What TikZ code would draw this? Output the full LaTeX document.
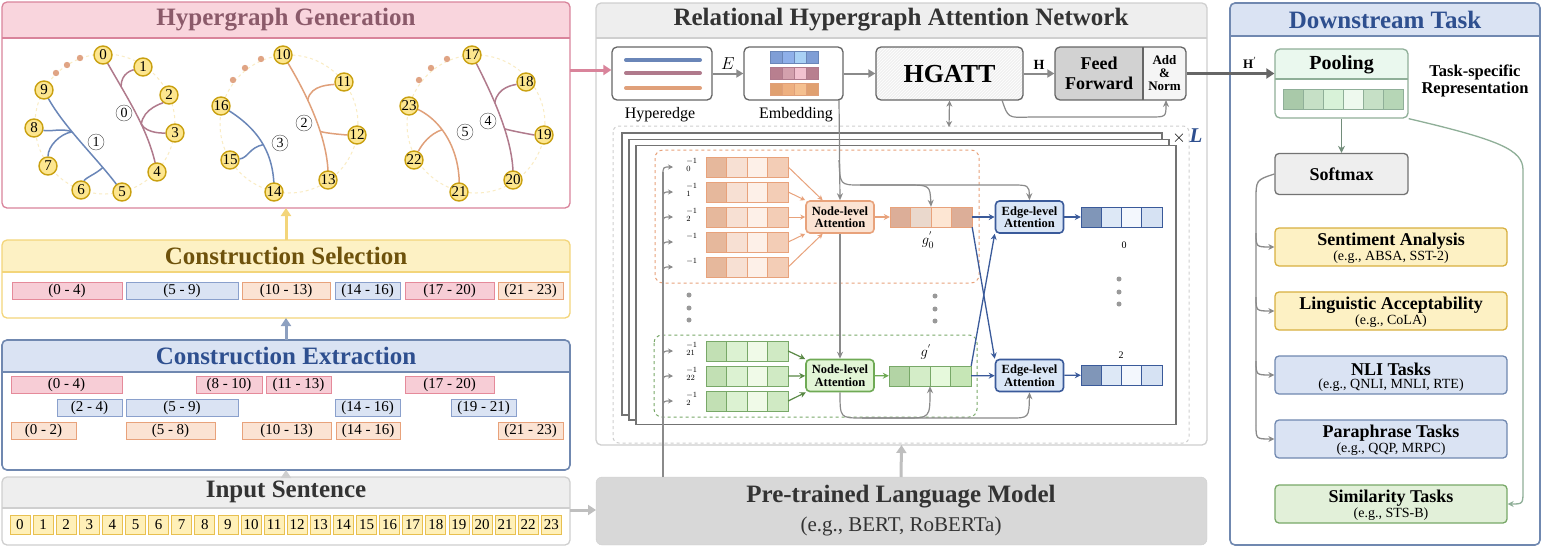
\documentclass[tikz,border=0pt]{standalone}
\usepackage{fontspec}
\setmainfont{Liberation Serif}
\usetikzlibrary{arrows.meta,patterns}

\definecolor{pinkF}{HTML}{F9D5DD}\definecolor{pinkD}{HTML}{D9849B}\definecolor{pinkT}{HTML}{8B5A6A}
\definecolor{yelF}{HTML}{FDF1C4}\definecolor{yelD}{HTML}{F3D57A}\definecolor{yelT}{HTML}{6E520C}
\definecolor{bluF}{HTML}{DAE3F3}\definecolor{bluD}{HTML}{7088B0}\definecolor{bluT}{HTML}{2E4F8F}
\definecolor{gryF}{HTML}{EEEEEE}\definecolor{gryD}{HTML}{CFCFCF}\definecolor{gryT}{HTML}{333333}
\definecolor{segP}{HTML}{F7CDD6}\definecolor{segPD}{HTML}{E58A9A}
\definecolor{segB}{HTML}{DAE3F3}\definecolor{segBD}{HTML}{8AA0CC}
\definecolor{segO}{HTML}{FBE3D3}\definecolor{segOD}{HTML}{E8A27B}
\definecolor{tokF}{HTML}{FFF0B8}\definecolor{tokD}{HTML}{E8C050}
\definecolor{nodF}{HTML}{FDE68F}\definecolor{nodD}{HTML}{C9A010}
\definecolor{heM}{HTML}{B07A8C}\definecolor{heB}{HTML}{6A86B8}\definecolor{heO}{HTML}{E0A07A}
\definecolor{dotO}{HTML}{E0A484}
\definecolor{arrG}{HTML}{8A8A8A}\definecolor{ffG}{HTML}{D2D2D2}
\definecolor{naOF}{HTML}{FBE3D3}\definecolor{naOD}{HTML}{E8A27B}
\definecolor{naGF}{HTML}{E2F5D6}\definecolor{naGD}{HTML}{6FAA55}
\definecolor{eaF}{HTML}{DAE6F6}\definecolor{eaD}{HTML}{3A5A9A}
\definecolor{poolF}{HTML}{EAF8EE}\definecolor{poolD}{HTML}{8FAF98}
\definecolor{grnF}{HTML}{E2F0D9}\definecolor{grnD}{HTML}{78A868}
\definecolor{taskY}{HTML}{D8B040}

\newcommand\fs[1]{\fontsize{#1}{#1}\selectfont}

% panel: name, x1, y1, x2, y2, ybar, fill, draw, width
\newcommand\panel[9]{%
  \fill[white,rounded corners=5pt] (#2,#3) rectangle (#4,#5);
  \begin{scope}
    \clip[rounded corners=5pt] (#2,#3) rectangle (#4,#5);
    \fill[#7] (#2,#3) rectangle (#4,#6);
  \end{scope}
  \draw[#8,line width=#9] (#2,#6) -- (#4,#6);
  \draw[#8,line width=#9,rounded corners=5pt] (#2,#3) rectangle (#4,#5);
  \coordinate (#1-n) at ({(#2+#4)/2},#3);
  \coordinate (#1-s) at ({(#2+#4)/2},#5);
}

% cells: name, x1, y1, width, height, count, border, colours
\newcommand\cells[8]{%
  \node[inner sep=0,minimum width=#4,minimum height=#5] (#1) at ({#2+#4/2},{#3+#5/2}) {};
  \foreach[count=\i] \c in {#8}{
    \definecolor{cc}{HTML}{\c}
    \pgfmathsetmacro\xa{#2+(\i-1)*#4/#6}
    \pgfmathsetmacro\xb{#2+\i*#4/#6}
    \draw[#7,fill=cc,line width=.8] (\xa,#3) rectangle (\xb,{#3+#5});
  }
}

\tikzset{
  title/.style={font=\bfseries\fs{25}},
  seg/.style={inner sep=0,minimum height=17,font=\fs{15}},
  segp/.style={seg,fill=segP,draw=segPD,line width=.8},
  segb/.style={seg,fill=segB,draw=segBD,line width=.8},
  sego/.style={seg,fill=segO,draw=segOD,line width=.8},
  tok/.style={inner sep=0,minimum width=20,minimum height=19,fill=tokF,draw=tokD,line width=.8,font=\fs{15}},
  gnode/.style={circle,inner sep=0,minimum size=18,fill=nodF,draw=nodD,line width=1.4,font=\fs{15}},
  enum/.style={circle,draw=black!70,inner sep=.6,minimum size=16,font=\fs{14}},
  hedge/.style={line width=1.5},
  bigarrow/.style={line width=3,-{Triangle[length=8,width=10]}},
  midarrow/.style={arrG,line width=2,-{Triangle[length=7,width=8]}},
  thinarrow/.style={arrG,line width=1.2,-{Stealth[length=7,width=6]}},
  box/.style={draw=gray!80!black,line width=1.3,rounded corners=5,fill=white,inner sep=0},
  natt/.style={rounded corners=4,line width=1.6,inner sep=1,minimum width=68,minimum height=32,align=center,font=\bfseries\fs{12.5}},
  task/.style={rounded corners=4,line width=1.3,inner sep=0,minimum width=232,minimum height=38},
  vdot/.style={circle,fill=gray!80,inner sep=0,minimum size=5},
}

\begin{document}
\begin{tikzpicture}[x=1pt,y=-1pt]
\useasboundingbox (0,0) rectangle (1544,547);

% ---------------- left column
\panel{hg}{2}{2}{570}{208}{38}{pinkF}{pinkD}{1.3}
\node[title,text=pinkT] (hgt) at (286,20) {Hypergraph Generation};
\panel{cs}{2}{240}{570}{318}{272}{yelF}{yelD}{1.3}
\node[title,text=yelT] (cst) at (286,256) {Construction Selection};
\panel{ce}{2}{340}{570}{470}{372}{bluF}{bluD}{1.6}
\node[title,text=bluT] (cet) at (286,356) {Construction Extraction};
\panel{is}{2}{477}{570}{545}{508}{gryF}{gryD}{1.3}
\node[title,text=gryT] (ist) at (286,492) {Input Sentence};

\draw[bigarrow,yelD] (cs-n) -- (hg-s);
\draw[bigarrow,bluD!80] (ce-n) -- (cs-s);
\draw[bigarrow,gryD] (is-n) -- (ce-s);

% selected constructions
\foreach \n/\a/\b/\y/\k/\t in {
  s1/12/122/291/segp/(0 - 4), s2/126/238/291/segb/(5 - 9), s3/242/330/291/sego/(10 - 13),
  s4/335/400/291/segb/(14 - 16), s5/405/494/291/segp/(17 - 20), s6/498/563/291/sego/(21 - 23),
  e1/11/122/385/segp/(0 - 4), e2/196/262/385/segp/(8 - 10), e3/266/331/385/segp/(11 - 13),
  e4/405/494/385/segp/(17 - 20), e5/57/122/408/segb/(2 - 4), e6/126/238/408/segb/(5 - 9),
  e7/335/400/408/segb/(14 - 16), e8/451/516/408/segb/(19 - 21), e9/11/76/431/sego/(0 - 2),
  e10/126/215/431/sego/(5 - 8), e11/242/331/431/sego/(10 - 13), e12/336/400/431/sego/(14 - 16),
  e13/498/563/431/sego/(21 - 23)}
  \node[\k,minimum width={\b pt-\a pt}] (\n) at ({(\a+\b)/2},\y) {\t};

% tokens
\foreach \i in {0,...,23}
  \node[tok] (t\i) at ({20+\i*23.1},525) {\i};

% hypergraphs
\draw[yelD!45,dashed,line width=1] (105,124) circle (70pt);
\draw[yelD!45,dashed,line width=1] (289,124) circle (69pt);
\draw[yelD!45,dashed,line width=1] (476,124) circle (69pt);
\foreach \x/\y in {56/73,67/65,80/58,233/80,245/68,261/59,419/80,431/68,447/59}
  \fill[dotO] (\x,\y) circle (3.2pt);

\draw[hedge,heM] (103,55) .. controls (125,95) and (150,130) .. (157,172)
  coordinate[pos=.27] (j01) coordinate[pos=.6] (j02);
\draw[hedge,heB] (44,90) .. controls (60,125) and (100,160) .. (122,192)
  coordinate[pos=.4] (j11) coordinate[pos=.75] (j12);
\draw[hedge,heO] (283,55) .. controls (305,90) and (330,140) .. (328,180)
  coordinate[pos=.38] (j21) coordinate[pos=.62] (j22);
\draw[hedge,heB] (221,106) .. controls (255,125) and (275,150) .. (274,192)
  coordinate[pos=.55] (j31);
\draw[hedge,heM] (472,55) .. controls (490,90) and (515,140) .. (513,180)
  coordinate[pos=.4] (j41) coordinate[pos=.6] (j42);
\draw[hedge,heO] (409,106) .. controls (440,115) and (462,150) .. (459,192)
  coordinate[pos=.42] (j51);

\foreach \n/\x/\y in {0/103/55,1/143/67,2/169/95,3/175/133,4/157/172,5/122/192,6/81/190,
  7/48/166,8/34/128,9/44/90,10/283/55,11/344/82,12/357/135,13/328/180,14/274/192,
  15/230/160,16/221/106,17/472/55,18/526/82,19/544/135,20/513/180,21/459/192,
  22/414/160,23/409/106}
  \node[gnode] (g\n) at (\x,\y) {\n};

\draw[hedge,heM] (j01) .. controls +(0,-14) and +(-10,3) .. (g1);
\draw[hedge,heM] (j02) .. controls +(2,-16) and +(-6,8) .. (g2);
\draw[hedge,heM] (j02) .. controls +(6,10) and +(-10,0) .. (g3);
\draw[hedge,heB] (g8) .. controls +(16,4) and +(-10,-4) .. (j11);
\draw[hedge,heB] (g7) .. controls +(0,-20) and +(-12,2) .. (j11);
\draw[hedge,heB] (g6) .. controls +(4,-12) and +(-6,6) .. (j12);
\draw[hedge,heO] (j21) .. controls +(3,-16) and +(-12,3) .. (g11);
\draw[hedge,heO] (j22) .. controls +(6,2) and +(-10,0) .. (g12);
\draw[hedge,heB] (g15) .. controls +(18,-2) and +(-14,3) .. (j31);
\draw[hedge,heM] (j41) .. controls +(3,-16) and +(-12,3) .. (g18);
\draw[hedge,heM] (j42) .. controls +(6,2) and +(-10,0) .. (g19);
\draw[hedge,heO] (g22) .. controls +(8,-16) and +(-12,4) .. (j51);

\node[enum] (c0) at (124,113) {0};
\node[enum] (c1) at (96,142) {1};
\node[enum] (c2) at (304,123) {2};
\node[enum] (c3) at (280,143) {3};
\node[enum] (c4) at (488,121) {4};
\node[enum] (c5) at (465,132) {5};

% ---------------- middle column
\panel{rh}{596}{3}{1207}{445}{38}{gryF}{gryD}{1.3}
\node[title,text=gryT] (rht) at (901,20) {Relational Hypergraph Attention Network};
\draw[fill=gryF!80!gray,draw=gryD,rounded corners=6] (596,477) rectangle (1207,545);
\coordinate (plm-n) at (901,477);
\node[font=\bfseries\fs{25},text=gryT] (plm) at (901,497) {Pre-trained Language Model};
\node[font=\fs{21},text=gryT] (plmx) at (901,526) {(e.g., BERT, RoBERTa)};
\draw[bigarrow,gryD!80!gray] (plm-n) -- (rh-s);
\coordinate (is-e) at (570,510);
\coordinate (plm-w) at (596,510);
\draw[bigarrow,gryD!80!gray] (is-e) -- (plm-w);

\node[box,minimum width=100,minimum height=53] (hyp) at (662,73.5) {};
\draw[line width=4,line cap=round,heB] (626,60) -- (700,60);
\draw[line width=4,line cap=round,heM] (626,73) -- (700,73);
\draw[line width=4,line cap=round,heO] (626,88) -- (700,88);
\node[font=\fs{16}] (hypl) at (660,115) {Hyperedge};
\node[box,minimum width=99,minimum height=53] (emb) at (793.5,73.5) {};
\cells{em1}{770}{51}{48}{12}{4}{heB}{7F9ED6,8FB0EA,A9D1F5,7F9ED6}
\cells{em2}{770}{67}{48}{12}{4}{heM}{B87F8F,D3A0AD,F2C1CF,B87F8F}
\cells{em3}{770}{83}{48}{12}{4}{heO}{E0A070,EEB080,F5C090,E0A070}
\node[font=\fs{16}] (embl) at (796,115) {Embedding};
\node[box,minimum width=147,minimum height=53,preaction={fill=gray!12},
  pattern=north east lines,pattern color=white] (hga) at (949.5,73.5) {};
\node[font=\bfseries\fs{26}] (hgal) at (949.5,74) {HGATT};
\begin{scope}
  \clip[rounded corners=5] (1055,47) rectangle (1186,100);
  \fill[ffG] (1055,47) rectangle (1143,100);
  \fill[gray!8] (1143,47) rectangle (1186,100);
\end{scope}
\draw[gray!80!black,line width=1.3] (1143,47) -- (1143,100);
\node[box,fill=none,minimum width=131,minimum height=53] (ffb) at (1120.5,73.5) {};
\node[align=center,font=\bfseries\fs{18},inner sep=0] (ff) at (1099,73.5) {Feed\\[2pt]Forward};
\node[align=center,font=\bfseries\fs{13},inner sep=0] (an) at (1164.5,73.5) {Add\\\&\\Norm};

\draw[midarrow] (hyp) -- node[above,text=black,font=\fs{16}] {$E$} (emb);
\draw[midarrow] (emb) -- (hga);
\draw[midarrow] (hga) -- node[above,text=black,font=\bfseries\fs{14}] {H} (ffb);
\coordinate (hg-e) at (570,70);
\draw[bigarrow,pinkD] (hg-e) -- (hyp.west |- hg-e);
\coordinate (hgb) at (1002,100);
\coordinate (anb) at (1166,100);
\draw[thinarrow] (hgb) .. controls (1008,118) .. (1030,117) -- (1150,117) .. controls (1166,117) .. (anb);

% L stack
\draw[gryD,dashed,rounded corners=6,line width=1] (613,126) rectangle (1189,443);
\coordinate (lt) at (949,127);
\draw[arrG,line width=1.2,{Stealth[length=6,width=6]}-{Stealth[length=6,width=6]}] (hga.south) -- (lt);
\foreach \d in {0,7,14}
  \draw[gray!90!black,line width=1.3,fill=white] ({622+\d},{133+\d*.9}) rectangle ({1162+\d},{415+\d*.7});
\node[font=\fs{18}] (lx) at (1179,138) {$\times$};
\node[font=\bfseries\itshape\fs{21},text=bluT] (ll) at (1196,136) {L};
\draw[segOD,dashed,rounded corners=8,line width=1] (655,150) rectangle (979,283);
\draw[grnD,dashed,rounded corners=8,line width=1] (654,335) rectangle (977,417);

% orange rows
\foreach \r/\y/\s in {1/157/0,2/182/1,3/207/2,4/232/,5/257/}{
  \cells{r\r}{706}{\y}{82}{20}{4}{segOD}{E6B89C,F7E0D3,FDF0E8,F3CDB6}
  \node[font=\fs{12},inner sep=0] (lr\r) at (692,{\y+8}) {$_{\s}^{-1}$};
}
\foreach \r/\y/\s in {6/341/21,7/366/22,8/391/2}{
  \cells{r\r}{706}{\y}{82}{20}{4}{grnD}{C2E0B4,DCF2D2,F0FAE8,D0EAC4}
  \node[font=\fs{12},inner sep=0] (lr\r) at (692,{\y+8}) {$_{\s}^{-1}$};
}
% feeders from the language model
\coordinate (fb) at (663,477);
\coordinate (ft) at (663,172);
\draw[arrG,line width=1.2] (fb) -- (ft);
\foreach \y in {167,192,217,242,267,351,376,401}
  \draw[arrG,line width=1.2,-{Stealth[length=5,width=5]}] (663,{\y+8}) .. controls (663,\y) .. (673,\y);

\node[natt,fill=naOF,draw=naOD] (na1) at (840,217) {Node-level\\Attention};
\node[natt,fill=naGF,draw=naGD] (na2) at (840,375.5) {Node-level\\Attention};
\node[natt,fill=eaF,draw=eaD] (ea1) at (1029.5,217) {Edge-level\\Attention};
\node[natt,fill=eaF,draw=eaD] (ea2) at (1029.5,375.5) {Edge-level\\Attention};
\cells{gv1}{890}{207}{82}{20}{4}{segOD}{DCAE98,EAD8CC,FDE6D3,DCAE98}
\cells{gv2}{889}{366}{82}{20}{4}{grnD}{B3D4A5,D4EDC8,E6F9DC,C6E6B6}
\cells{ov1}{1081}{207}{81}{20}{4}{eaD}{8096B8,DDE8F6,F3F7FD,D6E2F3}
\cells{ov2}{1081}{365}{81}{20}{4}{eaD}{8096B8,DDE8F6,F3F7FD,D6E2F3}
\node[font=\fs{14}] (g0l) at (928,240) {$g_0^{'}$};
\node[font=\fs{14}] (g1l) at (926,352) {$g^{'}$};
\node[font=\fs{10}] (o0l) at (1124,245) {0};
\node[font=\fs{10}] (o2l) at (1121,355) {2};
\foreach \x/\y in {689/295,689/308,689/320,935/296,935/309,935/321,1119/279,1119/292,1119/304}
  \node[vdot] at (\x,\y) {};

\foreach \r in {1,...,5} \draw[segOD,line width=1,-{Stealth[length=5,width=5]}] (r\r.east) -- (na1);
\foreach \r in {6,7,8} \draw[naGD!80!black,line width=1.2,-{Stealth[length=6,width=6]}] (r\r.east) -- (na2);
\draw[segOD,line width=1.2,-{Stealth[length=6,width=6]}] (na1) -- (gv1);
\draw[naGD,line width=1.2,-{Stealth[length=6,width=6]}] (na2) -- (gv2);
\draw[eaD,line width=1.3,-{Stealth[length=6,width=6]}] (gv1) -- (ea1);
\draw[eaD,line width=1.3,-{Stealth[length=6,width=6]}] (gv2) -- (ea2);
\draw[eaD,line width=1.3,-{Stealth[length=6,width=6]}] (gv1.south east) -- (ea2.north west);
\draw[eaD,line width=1.3,-{Stealth[length=6,width=6]}] (gv2.north east) -- (ea1.south west);
\draw[eaD,line width=1.3,-{Stealth[length=6,width=6]}] (ea1) -- (ov1);
\draw[eaD,line width=1.3,-{Stealth[length=6,width=6]}] (ea2) -- (ov2);

\coordinate (eb) at (839,100);
\draw[thinarrow] (eb) -- (na1.north);
\draw[thinarrow] (na1.south) -- (na2.north);
\coordinate (k1) at (839,160);
\coordinate (k2) at (860,185);
\draw[thinarrow] (k1) .. controls (840,185) .. (k2) -- (1010,185) .. controls (1029,185) .. (ea1.north);
\draw[thinarrow] (k2) -- (905,185) .. controls (930,185) .. (gv1.north);
\coordinate (k3) at (862,418);
\draw[thinarrow] (na2.south) .. controls (840,418) .. (k3) -- (1010,418) .. controls (1029,418) .. (ea2.south);
\draw[thinarrow] (k3) -- (905,418) .. controls (930,418) .. (gv2.south);

% ---------------- right column
\panel{dt}{1230}{3}{1540}{545}{36}{bluF}{bluD}{1.6}
\node[title,text=bluT] (dtt) at (1385,20) {Downstream Task};
\begin{scope}
  \clip[rounded corners=5] (1275,49) rectangle (1408,118);
  \fill[poolF] (1275,49) rectangle (1408,79);
\end{scope}
\draw[poolD,line width=1.3] (1275,79) -- (1408,79);
\node[draw=poolD,line width=1.3,rounded corners=5,minimum width=133,minimum height=69,inner sep=0] (pool) at (1341.5,83.5) {};
\node[font=\bfseries\fs{20}] (pooll) at (1341.5,65) {Pooling};
\cells{pv}{1283}{89}{120}{20}{6}{poolD}{A9C9A9,C6E0C6,D8F2D8,EEF9EE,C6E0C6,B6D6B6}
\node[align=center,font=\bfseries\fs{16.5},inner sep=0] (tsr) at (1475,81) {Task-specific\\[1pt]Representation};
\draw[bigarrow,gray!80!black] (ffb) -- node[above,pos=.72,text=black,font=\bfseries\fs{13}] {H$^{'}$} (ffb.east -| pool.west);

\node[draw=gray!90!black,fill=gryF,line width=1.3,rounded corners=4,minimum width=133,minimum height=41,
  inner sep=0,font=\bfseries\fs{18}] (sm) at (1341.5,174) {Softmax};
\draw[poolD!80!black,line width=1.3,-{Stealth[length=7,width=7]}] (pool) -- (sm);

\node[task,fill=yelF,draw=taskY] (t1) at (1391,247) {};
\node[task,fill=yelF,draw=taskY] (t2) at (1391,311) {};
\node[task,fill=bluF,draw=bluD] (t3) at (1391,375) {};
\node[task,fill=bluF,draw=bluD] (t4) at (1391,439) {};
\node[task,fill=grnF,draw=grnD] (t5) at (1391,504) {};
\foreach \t/\a/\b in {t1/Sentiment Analysis/{(e.g., ABSA, SST-2)},
  t2/Linguistic Acceptability/{(e.g., CoLA)},
  t3/NLI Tasks/{(e.g., QNLI, MNLI, RTE)},
  t4/Paraphrase Tasks/{(e.g., QQP, MRPC)},
  t5/Similarity Tasks/{(e.g., STS-B)}}{
  \node[font=\bfseries\fs{18}] (\t a) at ([yshift=6]\t.center) {\a};
  \node[font=\fs{14}] (\t b) at ([yshift=-10]\t.center) {\b};
}
\coordinate (lc) at (1256,200);
\draw[arrG,line width=1.3] (sm.west) .. controls (1256,180) .. (lc) -- (1256,425);
\foreach \t in {t1,t2,t3,t4}
  \draw[arrG,line width=1.3,-{Stealth[length=6,width=6]}] ([yshift=14]\t.west -| lc) .. controls (\t.west -| lc) .. (\t.west);
\coordinate (rc) at (1523,170);
\draw[poolD,line width=1.3,-{Stealth[length=6,width=6]}] (pool.south east) .. controls (1500,140) and (1523,150) .. (rc) -- (1523,490) .. controls (1523,504) .. (t5.east);
\end{tikzpicture}
\end{document}
